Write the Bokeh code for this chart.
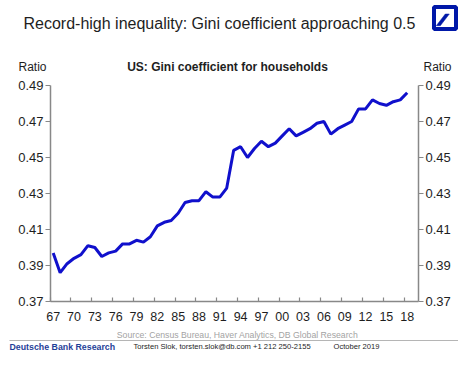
from bokeh.plotting import figure
from bokeh.models import Range1d, FixedTicker, Label, LinearAxis
from bokeh.embed import file_html
from bokeh.resources import INLINE

years = list(range(1967, 2019))
gini = [0.397, 0.386, 0.391, 0.394, 0.396, 0.401, 0.400, 0.395, 0.397, 0.398,
        0.402, 0.402, 0.404, 0.403, 0.406, 0.412, 0.414, 0.415, 0.419, 0.425,
        0.426, 0.426, 0.431, 0.428, 0.428, 0.433, 0.454, 0.456, 0.450, 0.455,
        0.459, 0.456, 0.458, 0.462, 0.466, 0.462, 0.464, 0.466, 0.469, 0.470,
        0.463, 0.466, 0.468, 0.470, 0.477, 0.477, 0.482, 0.480, 0.479, 0.481,
        0.482, 0.486]
x_ticks = list(range(1967, 2019, 3))
x_tick_labels = ["67", "70", "73", "76", "79", "82", "85", "88", "91", "94",
                 "97", "00", "03", "06", "09", "12", "15", "18"]
y_ticks = [0.37, 0.39, 0.41, 0.43, 0.45, 0.47, 0.49]
y_tick_labels = ["0.37", "0.39", "0.41", "0.43", "0.45", "0.47", "0.49"]

title_text = "Record-high inequality: Gini coefficient approaching 0.5"
subtitle_text = "US: Gini coefficient for households"
unit_text = "Ratio"
source_text = "Source: Census Bureau, Haver Analytics, DB Global Research"
footer_brand = "Deutsche Bank Research"
footer_contact = "Torsten Slok, torsten.slok@db.com  +1 212 250-2155"
footer_date = "October 2019"

FONT = "Liberation Sans"
AXIS_GRAY = "#888888"
LINE_BLUE = "#1010cc"
DB_BLUE = "#0018a8"
BRAND_BLUE = "#1f3f98"
TEXT = "#1e1e1e"

# canvas geometry (pixels)
W, H = 458, 351
AX_L, AX_R, AX_T, AX_B = 50, 418, 85, 301
# axis extents in data units
X0, X1 = 1966.61, 2019.63
Y0, Y1 = 0.37, 0.49
kx = (AX_R - AX_L) / (X1 - X0)
ky = (AX_B - AX_T) / (Y1 - Y0)

p = figure(width=W, height=H, output_backend="svg", toolbar_location=None,
           x_range=Range1d(X0 - AX_L / kx, X1 + (W - AX_R) / kx),
           y_range=Range1d(Y0 - (H - AX_B) / ky, Y1 + AX_T / ky),
           x_axis_location=None, y_axis_location=None,
           min_border=0, min_border_left=0, min_border_right=0,
           min_border_top=0, min_border_bottom=0)
p.extra_x_ranges = {"px": Range1d(0, W)}
p.extra_y_ranges = {"px": Range1d(H, 0)}
p.outline_line_color = None
p.grid.visible = False
p.background_fill_color = "white"
p.border_fill_color = "white"

p.line(years, gini, line_color=LINE_BLUE, line_width=3)


def style_axis(ax, size):
    ax.axis_line_color = AXIS_GRAY
    ax.axis_line_width = 1.5
    ax.major_tick_line_color = AXIS_GRAY
    ax.major_tick_line_width = 1.2
    ax.minor_tick_line_color = None
    ax.major_label_text_font = FONT
    ax.major_label_text_font_size = size
    ax.major_label_text_color = TEXT


# x axis: tick marks at category edges, labels at category centres
x_tick_axis = LinearAxis(fixed_location=Y0, bounds=(X0, X1),
                         ticker=FixedTicker(ticks=[t - 0.45 for t in x_ticks]),
                         major_label_overrides={t - 0.45: "" for t in x_ticks})
style_axis(x_tick_axis, "12.5px")
x_tick_axis.major_tick_in = 4
x_tick_axis.major_tick_out = 0
p.add_layout(x_tick_axis, "below")

x_lab_axis = LinearAxis(fixed_location=Y0, bounds=(X0, X1),
                        ticker=FixedTicker(ticks=x_ticks),
                        major_label_overrides={t: l for t, l in zip(x_ticks, x_tick_labels)})
style_axis(x_lab_axis, "12.5px")
x_lab_axis.axis_line_color = None
x_lab_axis.major_tick_line_color = None
x_lab_axis.major_tick_in = 0
x_lab_axis.major_tick_out = 0
x_lab_axis.major_label_standoff = 10
p.add_layout(x_lab_axis, "below")

for side, loc in (("left", X0), ("right", X1)):
    ya = LinearAxis(fixed_location=loc, bounds=(Y0, Y1),
                    ticker=FixedTicker(ticks=y_ticks),
                    major_label_overrides={t: l for t, l in zip(y_ticks, y_tick_labels)})
    style_axis(ya, "13px")
    ya.major_tick_in = 0
    ya.major_tick_out = 5
    ya.major_label_standoff = 2
    p.add_layout(ya, side)


def add_text(x, y, text, size, color=TEXT, style="normal", align="left"):
    p.add_layout(Label(x=x, y=y, x_range_name="px", y_range_name="px", text=text,
                       text_font=FONT, text_font_size=size, text_color=color,
                       text_font_style=style, text_align=align,
                       text_baseline="middle"))


# header
add_text(23, 23, title_text, "16px")
add_text(227, 66, subtitle_text, "12px", style="bold", align="center")
add_text(18, 66, unit_text, "12px")
add_text(423, 66, unit_text, "12px")
p.quad(left=[433.5], right=[455.5], top=[6.5], bottom=[28.5],
       x_range_name="px", y_range_name="px",
       fill_color=None, line_color=DB_BLUE, line_width=4)
p.patch(x=[435.8, 439.8, 448.8, 444.8], y=[25.2, 25.2, 13.5, 13.5],
        x_range_name="px", y_range_name="px",
        fill_color=DB_BLUE, line_color=DB_BLUE, line_width=0.5)

# footer (squeezed slightly to stay inside the canvas)
add_text(237, 334.5, source_text, "8.7px", color="#a3a3a3", align="center")
p.segment(x0=[9], y0=[340], x1=[W], y1=[340], x_range_name="px", y_range_name="px",
          line_color="#b5b5b5", line_width=1)
add_text(9, 346, footer_brand, "8.8px", color=BRAND_BLUE, style="bold")
add_text(133, 346.3, footer_contact, "7.6px")
add_text(333, 346.3, footer_date, "7.6px")

open("out.html", "w").write(file_html(p, INLINE))
